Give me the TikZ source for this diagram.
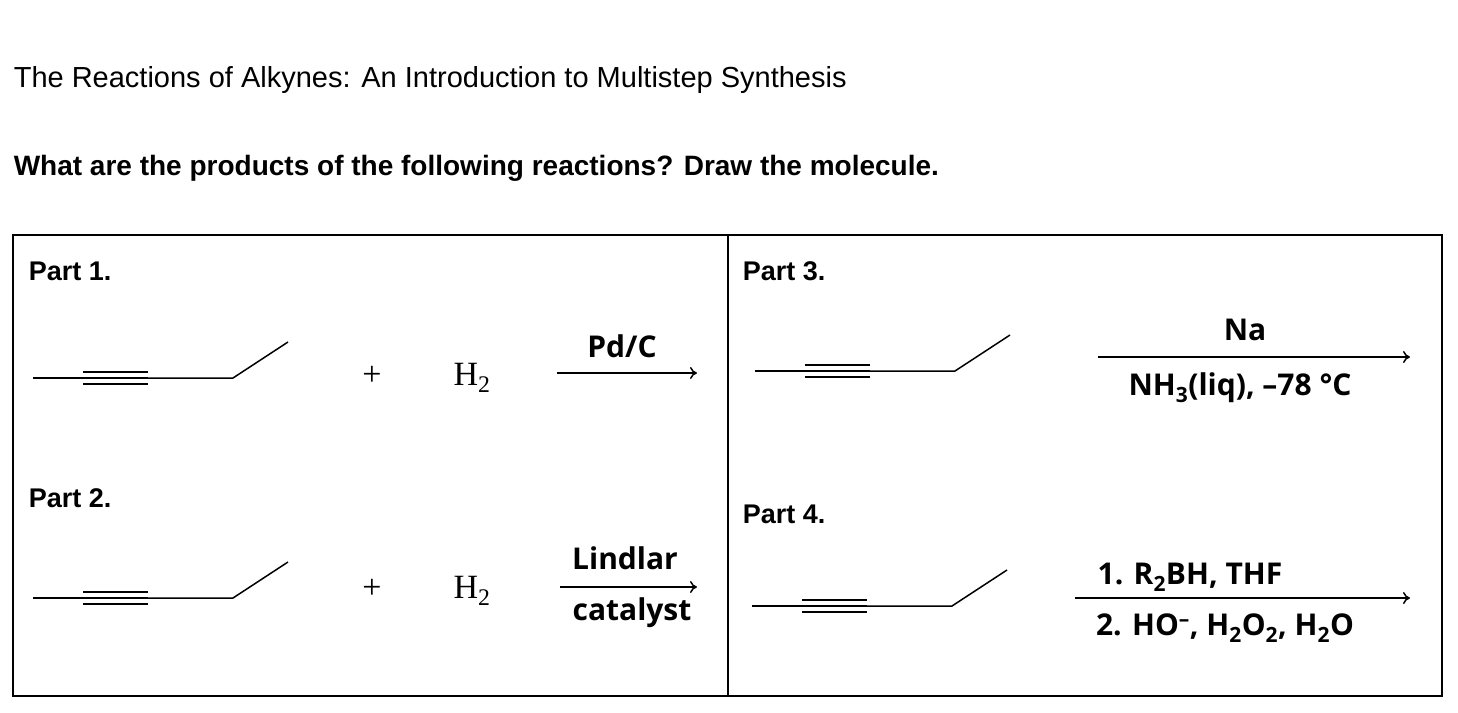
\documentclass[tikz,border=0pt]{standalone}
\usepackage{fontspec}
\usetikzlibrary{arrows.meta}
\setmainfont{Liberation Sans}
\newfontfamily\rg{Open Sans}
\newfontfamily\serif{Liberation Serif}
\begin{document}
\begin{tikzpicture}[x=1pt,y=-1pt,line width=1.6pt,
  lbl/.style={anchor=base west,inner sep=0,font=\fontsize{29}{34}\selectfont},
  prt/.style={anchor=base west,inner sep=0,font=\fontsize{28}{34}\selectfont\bfseries},
  rgt/.style={inner sep=0,font=\fontsize{30}{36}\selectfont\rg\bfseries},
  chem/.style={inner sep=0,font=\fontsize{34}{40}\selectfont\serif},
  bond/.style={line width=1.5pt},
  arr/.style={line width=1.5pt,-{To[length=7pt,width=12pt]}}]
\useasboundingbox (0,0) rectangle (1458,712);
\node[lbl] (title) at (13,87) {The Reactions of Alkynes: An Introduction to Multistep Synthesis};
\node[prt] (q) at (13,175) {What are the products of the following reactions? Draw the molecule.};
\draw[line width=1.8pt] (13,235) rectangle (1442,696);
\draw[line width=1.8pt] (728,235) -- (728,696);
\node[prt,font=\fontsize{27}{32}\selectfont\bfseries] (p1) at (28,280) {Part 1.};
\node[prt,font=\fontsize{27}{32}\selectfont\bfseries] (p2) at (28,507) {Part 2.};
\node[prt,font=\fontsize{27}{32}\selectfont\bfseries] (p3) at (742,280) {Part 3.};
\node[prt,font=\fontsize{27}{32}\selectfont\bfseries] (p4) at (742,523) {Part 4.};
\newcommand\butyne[3]{%
 \begin{scope}[shift={(#1,#2)}]
  \coordinate (#3a) at (0,0); \coordinate (#3b) at (50,0);
  \coordinate (#3c) at (115,0); \coordinate (#3d) at (200,0);
  \coordinate (#3e) at (255,-36);
  \draw[bond] (#3a) -- (#3b);
  \draw[bond] ([yshift=-6]#3b) -- ([yshift=-6]#3c);
  \draw[bond] (#3b) -- (#3c);
  \draw[bond] ([yshift=6]#3b) -- ([yshift=6]#3c);
  \draw[bond] (#3c) -- (#3d) -- (#3e);
 \end{scope}}
\butyne{33}{378}{m1}
\butyne{33}{598}{m2}
\butyne{755}{371}{m3}
\butyne{752}{606}{m4}
\node[chem] (plus1) at (372,376) {+};
\node[chem] (h1) at (472,378) {H\textsubscript{2}};
\node[chem] (plus2) at (372,589) {+};
\node[chem] (h2) at (472,591) {H\textsubscript{2}};
\coordinate (a1s) at (557,373); \coordinate (a1e) at (697,373);
\draw[arr] (a1s) -- (a1e);
\node[rgt] (r1) at (622,346) {Pd/C};
\coordinate (a2s) at (560,587); \coordinate (a2e) at (697,587);
\draw[arr] (a2s) -- (a2e);
\node[rgt] (r2a) at (625,558) {Lindlar};
\node[rgt] (r2b) at (632,613) {catalyst};
\coordinate (a3s) at (1098,357); \coordinate (a3e) at (1410,357);
\draw[arr] (a3s) -- (a3e);
\node[rgt] (r3a) at (1245,330) {Na};
\node[rgt] (r3b) at (1240,388) {NH\textsubscript{3}(liq), –78 °C};
\coordinate (a4s) at (1075,598); \coordinate (a4e) at (1410,598);
\draw[arr] (a4s) -- (a4e);
\node[rgt] (r4a) at (1190,577) {1. R\textsubscript{2}BH, THF};
\node[rgt] (r4b) at (1225,628) {2. HO\textsuperscript{–}, H\textsubscript{2}O\textsubscript{2}, H\textsubscript{2}O};
\end{tikzpicture}
\end{document}
